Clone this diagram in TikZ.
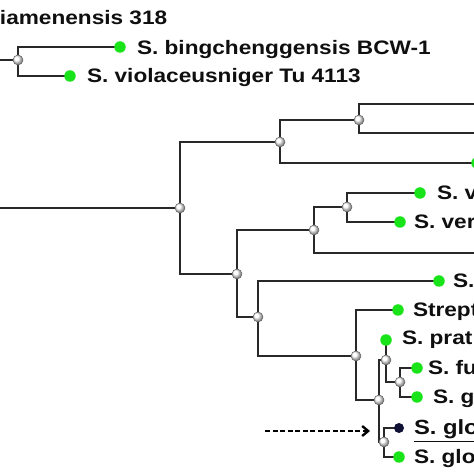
\documentclass[tikz,border=0pt]{standalone}
\usepackage{fontspec}
\setmainfont{Liberation Sans}
\usepackage{tikz}
\usetikzlibrary{positioning,arrows.meta,backgrounds}

\begin{document}
\begin{tikzpicture}[x=1pt,y=1pt,
  edge/.style={draw=drawColor,line width=1.8pt,line join=miter},
  junction/.style={circle,inner sep=0pt,outer sep=0pt,minimum size=10pt,shading=ball,ball color=white,draw=drawColor!70,line width=0.5pt},
  leaf/.style={circle,inner sep=0pt,outer sep=0pt,minimum size=11.5pt,fill=leafColor},
  taxon/.style={text=textColor,anchor=base west,inner sep=0pt,outer sep=0pt,xscale=1.16,font=\bfseries\fontsize{19.5}{21}\selectfont}]
\definecolor{fillColor}{RGB}{255,255,255}
\definecolor{drawColor}{RGB}{40,40,40}
\definecolor{leafColor}{RGB}{25,228,25}
\definecolor{navyColor}{RGB}{16,16,52}
\definecolor{textColor}{RGB}{15,15,15}
\path[use as bounding box,fill=fillColor,fill opacity=0.00] (0,0) rectangle (474,474);
\begin{scope}
\path[clip] (0,0) rectangle (474,474);

% junctions of the tree
\node[junction] (j1) at ( 18,414) {};
\node[junction] (j2) at (180,266) {};
\node[junction] (j3) at (280,332) {};
\node[junction] (j4) at (359,354) {};
\node[junction] (j5) at (237,200) {};
\node[junction] (j6) at (314,244) {};
\node[junction] (j7) at (347,267) {};
\node[junction] (j8) at (258,157) {};
\node[junction] (j9) at (356,118) {};
\node[junction] (j10) at (379, 74) {};
\node[junction] (j11) at (386,114) {};
\node[junction] (j12) at (400, 92) {};
\node[junction] (j13) at (384, 32) {};

% leaves
\node[leaf] (bing) at (120,427) {};
\node[leaf] (viol) at ( 70,398) {};
\node[leaf] (cut1) at (477,311) {};
\node[leaf] (vA) at (420,281) {};
\node[leaf] (ver) at (400,252) {};
\node[leaf] (sC) at (439,193) {};
\node[leaf] (strep) at (398,164) {};
\node[leaf] (prat) at (386,134) {};
\node[leaf] (fu) at (417,106) {};
\node[leaf] (gA) at (417, 77) {};
\node[leaf,fill=navyColor,minimum size=10pt] (gloX) at (399, 46) {};
\node[leaf] (glo) at (399, 17) {};

% free ends
\coordinate (in1) at ( -5,414);
\coordinate (in2) at ( -5,266);
\coordinate (out1) at (480,370);
\coordinate (out2) at (480,341);
\coordinate (out3) at (480,221);

\begin{scope}[on background layer]
\path[clip] (0,0) rectangle (474,474);
\path[edge] (in1) -- (j1.center);
\path[edge] (j1.center) |- (bing.center);
\path[edge] (j1.center) |- (viol.center);
\path[edge] (in2) -- (j2.center);
\path[edge] (j2.center) |- (j3.center);
\path[edge] (j2.center) |- (j5.center);
\path[edge] (j3.center) |- (j4.center);
\path[edge] (j3.center) |- (cut1.center);
\path[edge] (j4.center) |- (out1);
\path[edge] (j4.center) |- (out2);
\path[edge] (j5.center) |- (j6.center);
\path[edge] (j5.center) |- (j8.center);
\path[edge] (j6.center) |- (j7.center);
\path[edge] (j6.center) |- (out3);
\path[edge] (j7.center) |- (vA.center);
\path[edge] (j7.center) |- (ver.center);
\path[edge] (j8.center) |- (sC.center);
\path[edge] (j8.center) |- (j9.center);
\path[edge] (j9.center) |- (strep.center);
\path[edge] (j9.center) |- (j10.center);
\path[edge] (j10.center) |- (j11.center);
\path[edge] (j10.center) |- (j13.center);
\path[edge] (j11.center) -- (prat.center);
\path[edge] (j11.center) |- (j12.center);
\path[edge] (j12.center) |- (fu.center);
\path[edge] (j12.center) |- (gA.center);
\path[edge] (j13.center) |- (gloX.center);
\path[edge] (j13.center) |- (glo.center);
\end{scope}

% taxon names
\node[taxon] (tXia) at (0,449) {iamenensis 318};
\node[taxon] (tBing) at (137,419) {S. bingchenggensis BCW-1};
\node[taxon] (tViol) at (87,391) {S. violaceusniger Tu 4113};
\node[taxon] (tVa) at (437,274) {S. v};
\node[taxon] (tVer) at (414,245) {S. ver};
\node[taxon] (tS) at (453,186) {S.};
\node[taxon] (tStrep) at (413,157) {Strept};
\node[taxon] (tPrat) at (402,129) {S. prat};
\node[taxon] (tFu) at (428,99) {S. fu};
\node[taxon] (tG) at (433,70) {S. g};
\node[taxon,font=\bfseries\fontsize{20.5}{22}\selectfont] (tGloX) at (414,39) {\underline{S. glo}};
\node[taxon] (tGlo) at (414,10) {S. glo};

% pointer to the new strain
\coordinate (arrTail) at (265,43);
\coordinate (arrHead) at (373,43);
\path[draw=black,line width=2.6pt,dash pattern=on 5pt off 2.5pt,-{Straight Barb[length=6pt,width=10pt,line width=2.4pt,sep=3pt]}] (arrTail) -- (arrHead);
\end{scope}
\end{tikzpicture}
\end{document}
